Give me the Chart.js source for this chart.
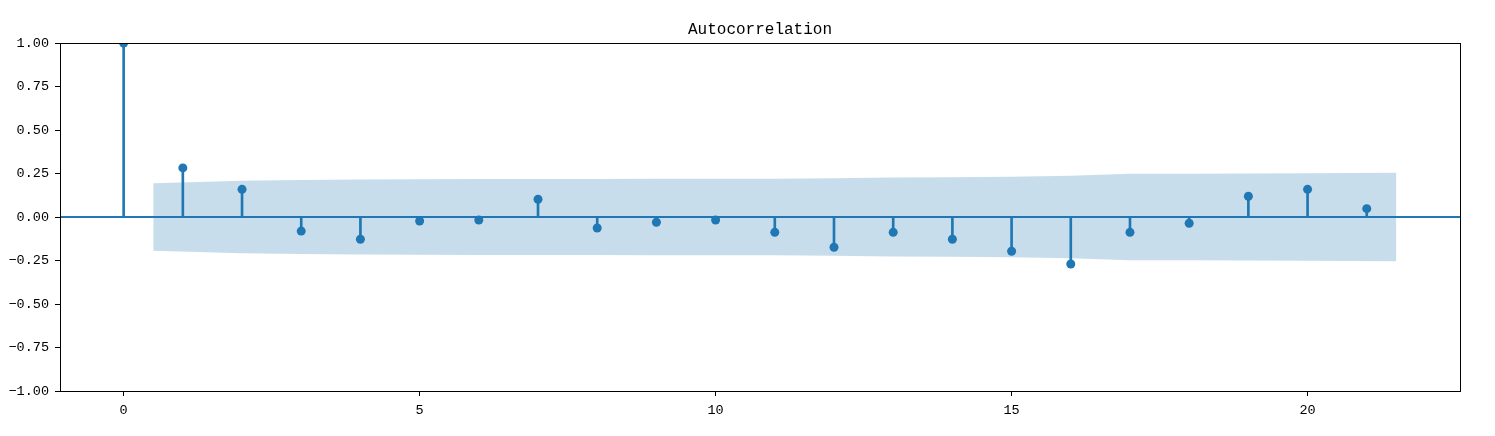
<!DOCTYPE html>
<html><head><meta charset="utf-8">
<script src="https://cdn.jsdelivr.net/npm/chart.js@4/dist/chart.umd.min.js"></script>
<style>html,body{margin:0;padding:0;background:#fff;overflow:hidden}#wrap{width:1495px;height:436px;}</style>
</head><body><div id="wrap"><canvas id="c" width="1495" height="436"></canvas></div>
<script>
const TITLE = 'Autocorrelation';
const lags = [0,1,2,3,4,5,6,7,8,9,10,11,12,13,14,15,16,17,18,19,20,21];
const acf = [1.0, 0.282, 0.159, -0.081, -0.128, -0.023, -0.017, 0.102, -0.063, -0.030, -0.017,
             -0.088, -0.174, -0.088, -0.128, -0.197, -0.270, -0.088, -0.036, 0.119, 0.159, 0.048];
const bandLags = [0.5,2,3,4,5,6,7,8,9,10,11,12,13,14,15,16,17,18,19,20,21.5];
const bandUpper = [0.194,0.209,0.213,0.215,0.217,0.218,0.218,0.219,0.220,0.220,0.220,0.222,0.227,0.228,0.231,0.237,0.248,0.249,0.250,0.252,0.255];
const bandLower = [-0.194,-0.209,-0.213,-0.215,-0.217,-0.218,-0.218,-0.219,-0.220,-0.220,-0.220,-0.222,-0.227,-0.228,-0.231,-0.237,-0.248,-0.249,-0.250,-0.252,-0.255];
const xTicks = [0,5,10,15,20];
const yTicks = [-1,-0.75,-0.5,-0.25,0,0.25,0.5,0.75,1];
const xRange = [-1.075, 22.575];
const yRange = [-1, 1];

const BLUE = '#1f77b4';
const TICK_FONT = {family: '"Liberation Mono", monospace', size: 13.5};

const framePlugin = {
  id: 'frame',
  beforeDatasetsDraw(chart) {
    const {ctx, chartArea: a, scales} = chart;
    const y0 = scales.y.getPixelForValue(0);
    ctx.save();
    ctx.strokeStyle = BLUE; ctx.lineWidth = 2;
    ctx.beginPath(); ctx.moveTo(a.left, y0); ctx.lineTo(a.right, y0); ctx.stroke();
    ctx.restore();
  },
  afterDraw(chart) {
    const {ctx, chartArea: a} = chart;
    ctx.save();
    ctx.strokeStyle = '#000'; ctx.lineWidth = 1;
    ctx.strokeRect(Math.round(a.left)+0.5, Math.round(a.top)+0.5, Math.round(a.right-a.left), Math.round(a.bottom-a.top));
    ctx.fillStyle = '#000';
    ctx.font = '16px "Liberation Mono", monospace';
    ctx.textAlign = 'center'; ctx.textBaseline = 'alphabetic';
    ctx.fillText(TITLE, (a.left + a.right)/2, 33.5);
    ctx.restore();
  }
};

new Chart(document.getElementById('c'), {
  type: 'bar',
  data: {
    datasets: [
      {
        type: 'scatter', order: 0, clip: 0,
        data: lags.map((x,i)=>({x, y: acf[i]})),
        backgroundColor: BLUE, borderColor: BLUE, pointRadius: 4.5, pointBorderWidth: 0
      },
      {
        type: 'bar', order: 1, grouped: false,
        data: lags.map((x,i)=>({x, y: [0, acf[i]]})),
        backgroundColor: BLUE, borderWidth: 0, barThickness: 2
      },
      {
        type: 'line', order: 2, fill: '+1',
        data: bandLags.map((x,i)=>({x, y: bandUpper[i]})),
        backgroundColor: 'rgba(31,119,180,0.25)', borderWidth: 0, pointRadius: 0, tension: 0
      },
      {
        type: 'line', order: 3, fill: false,
        data: bandLags.map((x,i)=>({x, y: bandLower[i]})),
        borderWidth: 0, pointRadius: 0, tension: 0
      }
    ]
  },
  options: {
    responsive: false, animation: false, devicePixelRatio: 1,
    layout: {padding: {left: 0, right: 35, top: 43, bottom: 0}},
    plugins: {legend: {display: false}, tooltip: {enabled: false}, title: {display: false}},
    scales: {
      x: {
        type: 'linear', min: xRange[0], max: xRange[1], offset: false,
        afterBuildTicks(s) { s.ticks = xTicks.map(v=>({value: v})); },
        afterFit(s) { s.height = 45; },
        grid: {display: true, offset: false, drawOnChartArea: false, drawTicks: true, tickLength: 5, tickColor: '#000', tickWidth: 1},
        border: {display: false},
        ticks: {color: '#000', font: TICK_FONT, padding: 6, maxRotation: 0, autoSkip: false,
                callback: v => String(v)}
      },
      y: {
        type: 'linear', min: yRange[0], max: yRange[1],
        afterBuildTicks(s) { s.ticks = yTicks.map(v=>({value: v})); },
        afterFit(s) { s.width = 60; },
        grid: {display: true, drawOnChartArea: false, drawTicks: true, tickLength: 5, tickColor: '#000', tickWidth: 1},
        border: {display: false},
        ticks: {color: '#000', font: TICK_FONT, padding: 6, autoSkip: false,
                callback: v => (v < 0 ? '\u2212' : '') + Math.abs(v).toFixed(2)}
      }
    }
  },
  plugins: [framePlugin]
});
</script></body></html>
